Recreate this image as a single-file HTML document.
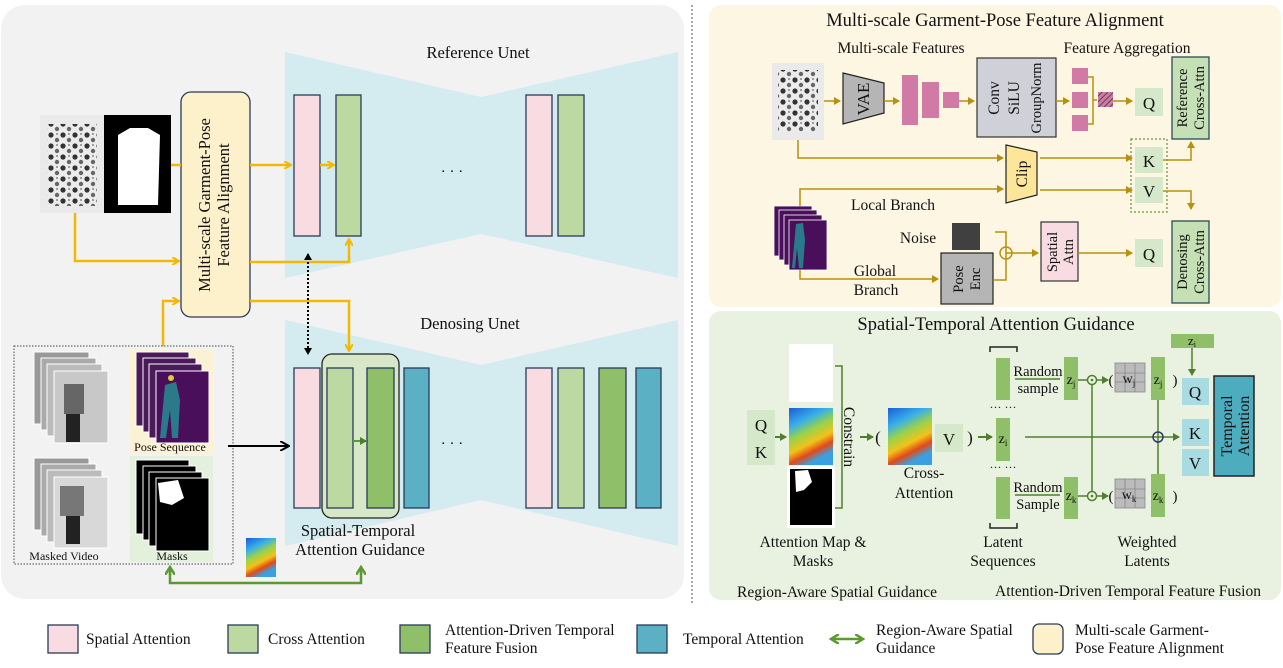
<!DOCTYPE html>
<html><head><meta charset="utf-8"><style>
html,body{margin:0;padding:0;background:#fff;width:1283px;height:668px;overflow:hidden}
svg text{font-family:"Liberation Serif",serif;fill:#111}
</style></head><body>
<svg width="1283" height="668" viewBox="0 0 1283 668" xmlns="http://www.w3.org/2000/svg">
<defs>
<marker id="ay" markerWidth="8" markerHeight="8" refX="6" refY="4" orient="auto" markerUnits="userSpaceOnUse"><path d="M0,0 L7,4 L0,8" fill="none" stroke="#f5b800" stroke-width="2"/></marker>
<marker id="ag" markerWidth="8" markerHeight="8" refX="6" refY="4" orient="auto" markerUnits="userSpaceOnUse"><path d="M0,0 L7,4 L0,8 z" fill="#b8900a"/></marker>
<marker id="agr" markerWidth="8" markerHeight="8" refX="6" refY="4" orient="auto" markerUnits="userSpaceOnUse"><path d="M0,0 L7,4 L0,8 z" fill="#4f7f2a"/></marker>
<marker id="agr2" markerWidth="10" markerHeight="10" refX="7" refY="5" orient="auto-start-reverse" markerUnits="userSpaceOnUse"><path d="M0,0 L8,5 L0,10" fill="none" stroke="#5a9a30" stroke-width="2.5"/></marker>
<marker id="ak" markerWidth="10" markerHeight="10" refX="8" refY="5" orient="auto" markerUnits="userSpaceOnUse"><path d="M0,0 L9,5 L0,10" fill="none" stroke="#000" stroke-width="2"/></marker>
<marker id="akd" markerWidth="8" markerHeight="8" refX="6" refY="4" orient="auto-start-reverse" markerUnits="userSpaceOnUse"><path d="M0,0 L7,4 L0,8 z" fill="#000"/></marker>
<linearGradient id="heat" x1="0" y1="0" x2="0.4" y2="1"><stop offset="0" stop-color="#1a5cd8"/><stop offset="0.3" stop-color="#39b0e8"/><stop offset="0.5" stop-color="#9ad24a"/><stop offset="0.7" stop-color="#f2c21a"/><stop offset="0.85" stop-color="#e24a1a"/><stop offset="1" stop-color="#3aa0e0"/></linearGradient>
<pattern id="hatch" width="4" height="4" patternUnits="userSpaceOnUse" patternTransform="rotate(45)"><rect width="4" height="4" fill="#d07aa5"/><line x1="0" y1="0" x2="0" y2="4" stroke="#333" stroke-width="1.5"/></pattern>
<pattern id="flor" width="12" height="11" patternUnits="userSpaceOnUse"><rect width="12" height="11" fill="#ececec"/><circle cx="3" cy="3" r="2.6" fill="#333"/><circle cx="9" cy="8" r="2.2" fill="#666"/><circle cx="9" cy="2" r="1" fill="#888"/></pattern>
</defs>

<rect x="1" y="5" width="683" height="594" rx="24" fill="#f2f2f2"/>
<line x1="692" y1="5" x2="692" y2="605" stroke="#aaa" stroke-width="2" stroke-dasharray="2,2"/>

<polygon points="285,52 481,97 678,52 678,278 481,234 285,278" fill="#d4ebef"/>
<polygon points="285,320 481,365 678,320 678,546 481,500 285,546" fill="#d4ebef"/>
<text x="478" y="58" font-size="16.5" text-anchor="middle">Reference Unet</text>
<text x="470" y="329" font-size="16.5" text-anchor="middle">Denosing Unet</text>
<text x="452" y="176" font-size="15" text-anchor="middle">· · ·</text>
<text x="452" y="448" font-size="15" text-anchor="middle">· · ·</text>

<g stroke="#2a3a5a" stroke-width="1.3">
<rect x="294" y="95" width="26" height="141" fill="#f8dce2"/>
<rect x="336" y="95" width="25" height="141" fill="#bcd9a2"/>
<rect x="526" y="95" width="26" height="141" fill="#f8dce2"/>
<rect x="558" y="95" width="26" height="141" fill="#bcd9a2"/>
<rect x="322" y="354" width="77" height="164" rx="10" fill="#d7e8c9" stroke="#222"/>
<rect x="294" y="368" width="26" height="140" fill="#f8dce2"/>
<rect x="327" y="368" width="26" height="140" fill="#bcd9a2"/>
<rect x="367" y="368" width="27" height="140" fill="#8fbf68"/>
<rect x="404" y="368" width="25" height="140" fill="#5bb0c3"/>
<rect x="526" y="368" width="26" height="140" fill="#f8dce2"/>
<rect x="558" y="368" width="26" height="140" fill="#bcd9a2"/>
<rect x="599" y="368" width="27" height="140" fill="#8fbf68"/>
<rect x="636" y="368" width="25" height="140" fill="#5bb0c3"/>
</g>
<line x1="353" y1="441" x2="366" y2="441" stroke="#5a9a30" stroke-width="2" marker-end="url(#agr)"/>
<text x="358" y="536" font-size="16.5" text-anchor="middle">Spatial-Temporal</text>
<text x="360" y="555" font-size="16.5" text-anchor="middle">Attention Guidance</text>

<rect x="181" y="92" width="69" height="225" rx="10" fill="#fdf1cc" stroke="#2a3a5a" stroke-width="1.3"/>
<text transform="translate(210,205) rotate(-90)" font-size="16.5" text-anchor="middle">Multi-scale Garment-Pose</text>
<text transform="translate(229,205) rotate(-90)" font-size="16.5" text-anchor="middle">Feature Alignment</text>

<rect x="40" y="115" width="64" height="98" fill="#eaeaea"/>
<rect x="47" y="124" width="50" height="82" fill="url(#flor)"/>
<rect x="104" y="115" width="67" height="98" fill="#000"/>
<path d="M118,135 L130,128 L148,128 L160,135 L158,205 L118,205 Z" fill="#fff"/>

<g stroke="#f5b800" stroke-width="2.5" fill="none">
<line x1="171" y1="165" x2="181" y2="165"/>
<line x1="250" y1="165" x2="290" y2="165" marker-end="url(#ay)"/>
<line x1="320" y1="165" x2="333" y2="165" marker-end="url(#ay)"/>
<polyline points="75,213 75,261 178,261" marker-end="url(#ay)"/>
<polyline points="250,262 349,262 349,240" marker-end="url(#ay)"/>
<polyline points="250,301 349,301 349,350" marker-end="url(#ay)"/>
<polyline points="163,346 163,301 178,301" marker-end="url(#ay)"/>
</g>
<line x1="308" y1="254" x2="308" y2="354" stroke="#000" stroke-width="2" stroke-dasharray="2,2" marker-start="url(#akd)" marker-end="url(#akd)"/>

<rect x="14" y="346" width="219" height="218" fill="none" stroke="#445" stroke-width="1" stroke-dasharray="1.5,1.5"/>
<rect x="130" y="350" width="83" height="104" fill="#fbf1d4"/>
<rect x="130" y="456" width="83" height="106" fill="#e3f0dc"/>
<g stroke="#fff" stroke-width="1">
<rect x="34" y="352" width="55" height="72" fill="#999"/>
<rect x="41" y="358" width="55" height="72" fill="#aaa"/>
<rect x="47" y="364" width="55" height="72" fill="#bbb"/>
<rect x="54" y="371" width="54" height="72" fill="#c8c8c8"/>
<rect x="34" y="458" width="55" height="72" fill="#999"/>
<rect x="41" y="464" width="55" height="72" fill="#aaa"/>
<rect x="47" y="470" width="55" height="72" fill="#bbb"/>
<rect x="54" y="477" width="54" height="71" fill="#d8d8d8"/>
</g>
<rect x="64" y="384" width="20" height="30" fill="#666"/>
<rect x="66" y="414" width="14" height="28" fill="#222"/>
<rect x="60" y="486" width="24" height="30" fill="#777"/>
<rect x="66" y="516" width="14" height="28" fill="#222"/>
<g stroke="#fff" stroke-width="1">
<rect x="136" y="352" width="53" height="74" fill="#4a1a5a"/>
<rect x="143" y="358" width="53" height="74" fill="#4a1a5a"/>
<rect x="149" y="364" width="53" height="74" fill="#4a1a5a"/>
<rect x="156" y="371" width="53" height="72" fill="#4a0f5a"/>
<rect x="136" y="460" width="53" height="74" fill="#000"/>
<rect x="143" y="466" width="53" height="74" fill="#000"/>
<rect x="149" y="472" width="53" height="74" fill="#000"/>
<rect x="156" y="478" width="53" height="73" fill="#000"/>
</g>
<path d="M165,385 L176,382 L180,400 L178,438 L172,438 L170,410 L166,438 L160,438 Z" fill="#2a7a8a"/>
<circle cx="171" cy="378" r="3" fill="#d8d030"/>
<path d="M158,483 L178,480 L184,498 L172,505 L160,502 Z" fill="#fff"/>
<text x="170" y="451" font-size="12" text-anchor="middle">Pose Sequence</text>
<text x="64" y="560" font-size="12" text-anchor="middle">Masked Video</text>
<text x="172" y="560" font-size="12" text-anchor="middle">Masks</text>
<line x1="228" y1="446" x2="288" y2="446" stroke="#000" stroke-width="2" marker-end="url(#ak)"/>
<rect x="246" y="538" width="30" height="39" fill="url(#heat)"/>
<polyline points="170,570 170,583 361,583 361,570" fill="none" stroke="#5a9a30" stroke-width="2.5"/>
<line x1="170" y1="575" x2="170" y2="568" stroke="#5a9a30" stroke-width="2.5" marker-end="url(#agr2)"/>
<line x1="361" y1="575" x2="361" y2="568" stroke="#5a9a30" stroke-width="2.5" marker-end="url(#agr2)"/>

<rect x="709" y="5" width="572" height="302" rx="12" fill="#fdf6e3"/>
<text x="995" y="26" font-size="18.5" text-anchor="middle">Multi-scale Garment-Pose Feature Alignment</text>
<text x="901" y="53" font-size="15.5" text-anchor="middle">Multi-scale Features</text>
<text x="1127" y="53" font-size="15.5" text-anchor="middle">Feature Aggregation</text>
<rect x="772" y="63" width="52" height="77" fill="#eaeaea"/>
<rect x="778" y="70" width="40" height="62" fill="url(#flor)"/>
<polygon points="843,73 884,83 884,113 843,124" fill="#b5b5b5" stroke="#222" stroke-width="1.2"/>
<text transform="translate(869,99) rotate(-90)" font-size="17" text-anchor="middle">VAE</text>
<rect x="902" y="75" width="16" height="50" fill="#d07aa5"/>
<rect x="922" y="82" width="17" height="36" fill="#d07aa5"/>
<rect x="943" y="92" width="16" height="16" fill="#d07aa5"/>
<rect x="977" y="58" width="79" height="79" fill="#d0d0d8" stroke="#333" stroke-width="1.2"/>
<text transform="translate(999,98) rotate(-90)" font-size="15.5" text-anchor="middle">Conv</text>
<text transform="translate(1019,98) rotate(-90)" font-size="15.5" text-anchor="middle">SiLU</text>
<text transform="translate(1041,98) rotate(-90)" font-size="14.5" text-anchor="middle">GroupNorm</text>
<rect x="1072" y="68" width="16" height="16" fill="#d07aa5"/>
<rect x="1072" y="92" width="16" height="16" fill="#d07aa5"/>
<rect x="1072" y="115" width="16" height="16" fill="#d07aa5"/>
<polyline points="1088,77 1093,77 1093,124 1088,124" fill="none" stroke="#b8900a" stroke-width="1.5"/>
<line x1="1093" y1="100" x2="1097" y2="100" stroke="#b8900a" stroke-width="1.5"/>
<rect x="1098" y="92" width="15" height="15" fill="url(#hatch)"/>
<rect x="1135" y="88" width="28" height="28" fill="#d5e8c9"/>
<text x="1149" y="109" font-size="17" text-anchor="middle">Q</text>
<rect x="1172" y="57" width="37" height="82" fill="#c5e0b4" stroke="#2a4a5a" stroke-width="1.3"/>
<text transform="translate(1187,98) rotate(-90)" font-size="14.5" text-anchor="middle">Reference</text>
<text transform="translate(1204,98) rotate(-90)" font-size="14.5" text-anchor="middle">Cross-Attn</text>
<polygon points="1006,145 1037,152 1037,195 1006,203" fill="#fde699" stroke="#222" stroke-width="1.2"/>
<text transform="translate(1027,174) rotate(-90)" font-size="15.5" text-anchor="middle">Clip</text>
<rect x="1131" y="139" width="36" height="73" fill="none" stroke="#6a9a40" stroke-width="1.3" stroke-dasharray="2,2"/>
<rect x="1135" y="147" width="28" height="26" fill="#d5e8c9"/>
<rect x="1135" y="177" width="28" height="26" fill="#d5e8c9"/>
<text x="1149" y="167" font-size="17" text-anchor="middle">K</text>
<text x="1149" y="197" font-size="17" text-anchor="middle">V</text>
<rect x="1172" y="221" width="37" height="82" fill="#c5e0b4" stroke="#2a4a5a" stroke-width="1.3"/>
<text transform="translate(1187,262) rotate(-90)" font-size="14.5" text-anchor="middle">Denosing</text>
<text transform="translate(1204,262) rotate(-90)" font-size="14.5" text-anchor="middle">Cross-Attn</text>
<g stroke="#fff" stroke-width="0.8">
<rect x="774" y="206" width="38" height="50" fill="#4a0f5a"/>
<rect x="779" y="210" width="38" height="50" fill="#4a0f5a"/>
<rect x="784" y="215" width="38" height="50" fill="#4a0f5a"/>
<rect x="789" y="220" width="38" height="50" fill="#4a0f5a"/>
</g>
<path d="M796,224 L803,223 L805,240 L803,268 L799,268 L797,248 L795,268 L792,268 Z" fill="#2a7a8a"/>
<rect x="952" y="223" width="28" height="27" fill="#404040"/>
<rect x="941" y="253" width="52" height="51" fill="#b5b5b5" stroke="#222" stroke-width="1.2"/>
<text transform="translate(963,279) rotate(-90)" font-size="14.5" text-anchor="middle">Pose</text>
<text transform="translate(980,279) rotate(-90)" font-size="14.5" text-anchor="middle">Enc</text>
<rect x="1041" y="222" width="37" height="59" fill="#f8dce2" stroke="#333" stroke-width="1.2"/>
<text transform="translate(1057,252) rotate(-90)" font-size="14.5" text-anchor="middle">Spatial</text>
<text transform="translate(1073,252) rotate(-90)" font-size="14.5" text-anchor="middle">Attn</text>
<rect x="1135" y="239" width="28" height="28" fill="#d5e8c9"/>
<text x="1149" y="260" font-size="17" text-anchor="middle">Q</text>
<text x="893" y="210" font-size="15.5" text-anchor="middle">Local Branch</text>
<text x="918" y="243" font-size="15.5" text-anchor="middle">Noise</text>
<text x="875" y="276" font-size="15.5" text-anchor="middle">Global</text>
<text x="876" y="295" font-size="15.5" text-anchor="middle">Branch</text>
<g stroke="#b8900a" stroke-width="1.5" fill="none">
<line x1="824" y1="101" x2="840" y2="101" marker-end="url(#ag)"/>
<line x1="884" y1="101" x2="899" y2="101" marker-end="url(#ag)"/>
<line x1="959" y1="101" x2="974" y2="101" marker-end="url(#ag)"/>
<line x1="1056" y1="101" x2="1069" y2="101" marker-end="url(#ag)"/>
<line x1="1113" y1="101" x2="1132" y2="101" marker-end="url(#ag)"/>
<polyline points="798,140 798,158 1003,158" marker-end="url(#ag)"/>
<polyline points="800,206 800,189 1003,189" marker-end="url(#ag)"/>
<line x1="1040" y1="158" x2="1132" y2="158" marker-end="url(#ag)"/>
<line x1="1040" y1="190" x2="1132" y2="190" marker-end="url(#ag)"/>
<polyline points="1163,160 1191,160 1191,142" marker-end="url(#ag)"/>
<polyline points="1163,191 1191,191 1191,209" marker-end="url(#ag)"/>
<polyline points="800,270 800,279 938,279" marker-end="url(#ag)"/>
<polyline points="993,280 1006,280 1006,232 995,232"/>
<circle cx="1006" cy="253" r="6"/>
<line x1="1006" y1="253" x2="1038" y2="253" marker-end="url(#ag)"/>
<line x1="1078" y1="253" x2="1132" y2="253" marker-end="url(#ag)"/>
</g>

<rect x="709" y="311" width="572" height="289" rx="12" fill="#e9f2e1"/>
<text x="996" y="330" font-size="18.5" text-anchor="middle">Spatial-Temporal Attention Guidance</text>
<rect x="747" y="410" width="28" height="55" fill="#d5e8c9"/>
<text x="761" y="431" font-size="17" text-anchor="middle">Q</text>
<text x="761" y="458" font-size="17" text-anchor="middle">K</text>
<rect x="789" y="344" width="44" height="58" fill="#fff"/>
<rect x="789" y="408" width="44" height="57" fill="url(#heat)"/>
<rect x="787" y="466" width="48" height="62" fill="#fff"/>
<rect x="790" y="469" width="42" height="56" fill="#000"/>
<path d="M795,471 L808,470 L812,482 L804,490 L796,492 Z" fill="#fff"/>
<polyline points="835,366 842,366 842,508 835,508" fill="none" stroke="#4f7f2a" stroke-width="1.5"/>
<text transform="translate(844,437) rotate(90)" font-size="15.5" text-anchor="middle">Constrain</text>
<rect x="888" y="408" width="44" height="57" fill="url(#heat)"/>
<text x="878" y="443" font-size="17" text-anchor="middle">(</text>
<rect x="935" y="424" width="28" height="28" fill="#d5e8c9"/>
<text x="949" y="445" font-size="17" text-anchor="middle">V</text>
<text x="970" y="443" font-size="17" text-anchor="middle">)</text>
<text x="924" y="478" font-size="15.5" text-anchor="middle">Cross-</text>
<text x="924" y="498" font-size="15.5" text-anchor="middle">Attention</text>
<g stroke="#4f7f2a" stroke-width="2" fill="none">
<line x1="775" y1="437" x2="786" y2="437" marker-end="url(#agr)"/>
<line x1="860" y1="437" x2="873" y2="437" marker-end="url(#agr)"/>
<line x1="978" y1="437" x2="992" y2="437" marker-end="url(#agr)"/>
</g>
<polyline points="990,352 990,347 1017,347 1017,352" fill="none" stroke="#222" stroke-width="1.5"/>
<polyline points="990,523 990,528 1017,528 1017,523" fill="none" stroke="#222" stroke-width="1.5"/>
<rect x="996" y="358" width="14" height="42" fill="#8fbf68"/>
<rect x="996" y="418" width="14" height="43" fill="#8fbf68"/>
<rect x="996" y="477" width="14" height="42" fill="#8fbf68"/>
<text x="1003" y="443" font-size="14" text-anchor="middle">z<tspan font-size="9" dy="3">i</tspan></text>
<text x="1003" y="411" font-size="12" text-anchor="middle">···  ···</text>
<text x="1003" y="471" font-size="12" text-anchor="middle">···  ···</text>
<text x="1038" y="376" font-size="14.5" text-anchor="middle">Random</text>
<line x1="1015" y1="379" x2="1060" y2="379" stroke="#4f7f2a" stroke-width="1.5"/>
<text x="1038" y="393" font-size="14.5" text-anchor="middle">sample</text>
<text x="1038" y="492" font-size="14.5" text-anchor="middle">Random</text>
<line x1="1015" y1="495" x2="1060" y2="495" stroke="#4f7f2a" stroke-width="1.5"/>
<text x="1038" y="509" font-size="14.5" text-anchor="middle">Sample</text>
<rect x="1064" y="357" width="14" height="43" fill="#8fbf68"/>
<rect x="1064" y="477" width="14" height="42" fill="#8fbf68"/>
<rect x="1151" y="357" width="14" height="43" fill="#8fbf68"/>
<rect x="1151" y="474" width="14" height="43" fill="#8fbf68"/>
<text x="1071" y="384" font-size="14" text-anchor="middle">z<tspan font-size="9" dy="3">j</tspan></text>
<text x="1071" y="500" font-size="14" text-anchor="middle">z<tspan font-size="9" dy="3">k</tspan></text>
<text x="1158" y="384" font-size="14" text-anchor="middle">z<tspan font-size="9" dy="3">j</tspan></text>
<text x="1158" y="500" font-size="14" text-anchor="middle">z<tspan font-size="9" dy="3">k</tspan></text>
<g fill="#bbb" stroke="#888" stroke-width="0.8">
<rect x="1115" y="363" width="30" height="29"/>
<rect x="1115" y="479" width="30" height="29"/>
</g>
<g stroke="#888" stroke-width="0.8">
<line x1="1125" y1="363" x2="1125" y2="392"/><line x1="1135" y1="363" x2="1135" y2="392"/>
<line x1="1115" y1="373" x2="1145" y2="373"/><line x1="1115" y1="382" x2="1145" y2="382"/>
<line x1="1125" y1="479" x2="1125" y2="508"/><line x1="1135" y1="479" x2="1135" y2="508"/>
<line x1="1115" y1="489" x2="1145" y2="489"/><line x1="1115" y1="498" x2="1145" y2="498"/>
</g>
<text x="1129" y="383" font-size="14" text-anchor="middle">w<tspan font-size="9" dy="3">j</tspan></text>
<text x="1129" y="499" font-size="14" text-anchor="middle">w<tspan font-size="9" dy="3">k</tspan></text>
<text x="1111" y="385" font-size="15" text-anchor="middle">(</text>
<text x="1111" y="501" font-size="15" text-anchor="middle">(</text>
<text x="1175" y="385" font-size="15" text-anchor="middle">)</text>
<text x="1175" y="501" font-size="15" text-anchor="middle">)</text>
<g stroke="#4f7f2a" stroke-width="1.5" fill="none">
<line x1="1078" y1="380" x2="1087" y2="380"/>
<circle cx="1092" cy="380" r="4.5"/>
<line x1="1097" y1="380" x2="1108" y2="380" marker-end="url(#agr)"/>
<line x1="1078" y1="496" x2="1087" y2="496"/>
<circle cx="1092" cy="496" r="4.5"/>
<line x1="1097" y1="496" x2="1108" y2="496" marker-end="url(#agr)"/>
<line x1="1092" y1="385" x2="1092" y2="491"/>
<line x1="1158" y1="400" x2="1158" y2="474"/>
<line x1="1025" y1="437" x2="1179" y2="437" marker-end="url(#agr)"/>
<circle cx="1158" cy="437" r="5" stroke="#2a3a6a"/>
<line x1="1192" y1="347" x2="1192" y2="375" marker-end="url(#agr)"/>
</g>
<circle cx="1092" cy="380" r="1.3" fill="#4f7f2a"/>
<circle cx="1092" cy="496" r="1.3" fill="#4f7f2a"/>
<rect x="1171" y="334" width="43" height="14" fill="#8fbf68"/>
<text x="1192" y="345" font-size="13" text-anchor="middle">z<tspan font-size="8" dy="2">i</tspan></text>
<rect x="1182" y="378" width="27" height="27" fill="#a9dbe3"/>
<rect x="1182" y="419" width="27" height="27" fill="#a9dbe3"/>
<rect x="1182" y="449" width="27" height="27" fill="#a9dbe3"/>
<text x="1195" y="398" font-size="17" text-anchor="middle">Q</text>
<text x="1195" y="439" font-size="17" text-anchor="middle">K</text>
<text x="1195" y="469" font-size="17" text-anchor="middle">V</text>
<rect x="1214" y="376" width="40" height="100" fill="#4eacbf" stroke="#222" stroke-width="1.5"/>
<text transform="translate(1232,426) rotate(-90)" font-size="16" text-anchor="middle">Temporal</text>
<text transform="translate(1249,426) rotate(-90)" font-size="16" text-anchor="middle">Attention</text>
<text x="813" y="547" font-size="15.5" text-anchor="middle">Attention Map &amp;</text>
<text x="813" y="566" font-size="15.5" text-anchor="middle">Masks</text>
<text x="1003" y="547" font-size="15.5" text-anchor="middle">Latent</text>
<text x="1003" y="566" font-size="15.5" text-anchor="middle">Sequences</text>
<text x="1147" y="547" font-size="15.5" text-anchor="middle">Weighted</text>
<text x="1147" y="566" font-size="15.5" text-anchor="middle">Latents</text>
<text x="837" y="597" font-size="15.5" text-anchor="middle">Region-Aware Spatial Guidance</text>
<text x="1128" y="596" font-size="15.5" text-anchor="middle">Attention-Driven Temporal Feature Fusion</text>

<g stroke="#2a3a5a" stroke-width="1.3">
<rect x="48" y="625" width="30" height="28" fill="#f8dce2"/>
<rect x="228" y="625" width="30" height="28" fill="#bcd9a2"/>
<rect x="400" y="625" width="30" height="28" fill="#8fbf68"/>
<rect x="637" y="625" width="30" height="28" fill="#5bb0c3"/>
<rect x="1033" y="624" width="30" height="30" rx="6" fill="#fdf1cc"/>
</g>
<text x="86" y="644" font-size="15.5">Spatial Attention</text>
<text x="268" y="644" font-size="15.5">Cross Attention</text>
<text x="445" y="635" font-size="15.5">Attention-Driven Temporal</text>
<text x="445" y="653" font-size="15.5">Feature Fusion</text>
<text x="683" y="644" font-size="15.5">Temporal Attention</text>
<line x1="832" y1="639" x2="862" y2="639" stroke="#5a9a30" stroke-width="2.5" marker-start="url(#agr2)" marker-end="url(#agr2)"/>
<text x="876" y="635" font-size="15.5">Region-Aware Spatial</text>
<text x="876" y="653" font-size="15.5">Guidance</text>
<text x="1075" y="635" font-size="15.5">Multi-scale Garment-</text>
<text x="1075" y="653" font-size="15.5">Pose Feature Alignment</text>
</svg>
</body></html>
